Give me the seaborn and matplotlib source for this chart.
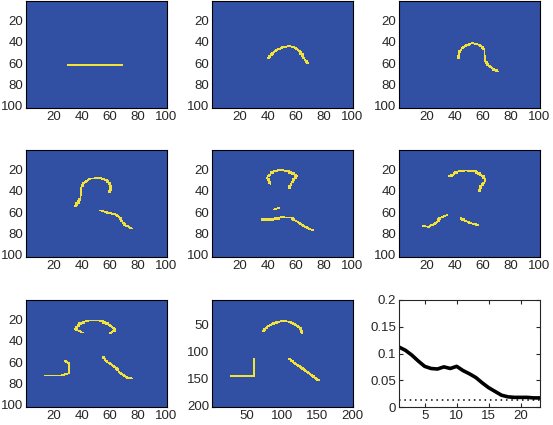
import matplotlib
matplotlib.use("Agg")
import matplotlib.pyplot as plt
import numpy as np
import seaborn as sns
from matplotlib.colors import ListedColormap

# curves, as (column, row) pixel coordinates
frame1 = [[(30, 60.5), (69, 60.5)]]
frame2 = [[(40, 54), (43, 50), (46.5, 46.5), (50, 44), (54.8, 42.5), (59, 44),
           (63, 48), (65, 52.5), (66.7, 56), (69, 59)]]
frame3 = [[(42.6, 54), (43, 49), (46, 43.5), (52, 39.7), (57.8, 41.3), (61, 46.6),
           (61.4, 56), (63.7, 60.6), (67.2, 64.3), (70.3, 66)]]
frame4 = [[(35.5, 53), (39, 46), (39.6, 37), (41.5, 31), (46, 27), (53, 26.5),
           (58, 29), (61, 35.4), (59.2, 40)],
          [(53.3, 57), (58, 59), (64, 61), (67.5, 64.6), (71, 70.8), (75.4, 74)]]
frame5 = [[(42, 32.3), (39.7, 26), (42.6, 21.5), (48.6, 19.4), (54.5, 20.6),
           (60.5, 24), (57.7, 30), (55, 36)],
          [(44.5, 56), (47.4, 54.5)],
          [(36.6, 65.5), (43.8, 65.2), (49.8, 63.7), (57, 64), (63, 69),
           (67.7, 73), (72, 76)]]
frame6 = [[(36.3, 25), (40.3, 21.5), (47.3, 20), (54.3, 20.6), (60.2, 24.6),
           (61.8, 29), (59, 33.8), (57.4, 38.5)],
          [(16.9, 71.4), (21.5, 72.3), (26.2, 69), (29.7, 64.6), (34.9, 61)],
          [(44.5, 64.6), (49.6, 67.7), (56.7, 70.8)]]
frame7 = [[(40.3, 30.8), (35.5, 27.7), (37.9, 23), (45, 20), (53.3, 20),
           (59.2, 23), (64, 28.6), (60.4, 31.7)],
          [(28.4, 57), (30.8, 60), (30.8, 69), (26, 70.8), (14.2, 71)],
          [(55.2, 53.8), (58, 58.5), (64, 64), (68.7, 70), (71.8, 73), (75.4, 74)]]
frame8 = [[(73, 58.5), (80.4, 49), (90, 43), (99.5, 40), (109, 41),
           (118.7, 46), (126, 54), (128, 61.5)],
          [(27.8, 142.8), (60.3, 142.8), (60.3, 110.8)],
          [(110, 110.8), (152, 150.8)]]

frames = [frame1, frame2, frame3, frame4, frame5, frame6, frame7, frame8]
grid_sizes = [100, 100, 100, 100, 100, 100, 100, 200]
tick_sets = [[20, 40, 60, 80, 100]] * 7 + [[50, 100, 150, 200]]

# error curve (last panel)
iterations = list(range(1, 24))
error = [0.112, 0.106, 0.097, 0.086, 0.076, 0.072, 0.071, 0.075, 0.072, 0.076,
         0.068, 0.062, 0.055, 0.045, 0.036, 0.029, 0.022, 0.019, 0.018, 0.018,
         0.018, 0.017, 0.017]
baseline = [0.0135] * 23

blue = "#3150a4"
yellow = "#f2e23a"


def rasterize(curves, n, radius):
    img = np.zeros((n, n))
    rows, cols = np.mgrid[1:n + 1, 1:n + 1]
    for curve in curves:
        pts = np.array(curve, dtype=float)
        for (x0, y0), (x1, y1) in zip(pts[:-1], pts[1:]):
            steps = int(np.hypot(x1 - x0, y1 - y0) * 4) + 2
            for t in np.linspace(0, 1, steps):
                x = x0 + (x1 - x0) * t
                y = y0 + (y1 - y0) * t
                img[(np.abs(cols - x) <= radius) & (np.abs(rows - y) <= radius)] = 1
    return img


sns.set_style("ticks", {"xtick.direction": "in", "ytick.direction": "in"})
plt.rcParams["font.family"] = ["Liberation Sans", "DejaVu Sans"]
plt.rcParams["font.size"] = 9.5

fig = plt.figure(figsize=(5.53, 4.25), dpi=100)
W, H = 553, 425
lefts = [26, 212, 399]
tops = [1, 150, 300]
aw, ah = 141, 107

axes = []
for r in range(3):
    for c in range(3):
        ax = fig.add_axes([lefts[c] / W, 1 - (tops[r] + ah) / H, aw / W, ah / H])
        axes.append(ax)

cmap = ListedColormap([blue, yellow])
for ax, curves, n, ticks in zip(axes, frames, grid_sizes, tick_sets):
    img = rasterize(curves, n, 0.8 if n == 100 else 1.6)
    sns.heatmap(img, cmap=cmap, vmin=0, vmax=1, cbar=False, ax=ax)
    ax.set_xticks(np.array(ticks) - 0.5)
    ax.set_xticklabels(ticks, rotation=0)
    ax.set_yticks(np.array(ticks) - 0.5)
    ax.set_yticklabels(ticks, rotation=0)
    ax.tick_params(length=2, direction="in", labelsize=9.5, pad=2)
    for s in ax.spines.values():
        s.set_visible(True)
        s.set_color("black")
        s.set_linewidth(0.8)

ax = axes[8]
sns.lineplot(x=iterations, y=error, ax=ax, color="black", linewidth=2.6)
sns.lineplot(x=iterations, y=baseline, ax=ax, color="black", linewidth=1.1,
             linestyle=(0, (1, 2.5)))
ax.set_xlim(1, 23)
ax.set_ylim(0, 0.2)
ax.set_xticks([5, 10, 15, 20])
ax.set_yticks([0, 0.05, 0.1, 0.15, 0.2])
ax.set_yticklabels(["0", "0.05", "0.1", "0.15", "0.2"])
ax.tick_params(length=3, direction="in", top=True, right=True, labelsize=9.5, pad=2)
for s in ax.spines.values():
    s.set_visible(True)
    s.set_linewidth(0.8)

fig.savefig("out.png", dpi=100)
